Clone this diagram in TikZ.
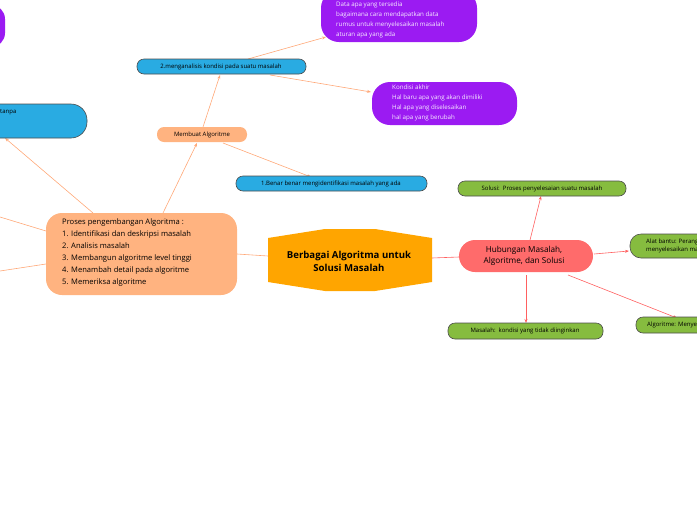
\documentclass[tikz,border=0pt]{standalone}
\usepackage{fontspec}
\setmainfont{Open Sans}
\usetikzlibrary{arrows.meta}
\definecolor{orl}{HTML}{FFB380}
\definecolor{orc}{HTML}{FFA500}
\definecolor{rd}{HTML}{FF6B6B}
\definecolor{gr}{HTML}{86BC3F}
\definecolor{bl}{HTML}{29ABE2}
\definecolor{pu}{HTML}{9B1BF2}
\definecolor{lno}{HTML}{FFA878}
\definecolor{lnr}{HTML}{FF6060}
\begin{document}
\begin{tikzpicture}[x=1pt,y=-1pt,
 gbox/.style={draw=black!70,fill=gr,rounded corners=7pt,line width=0.6pt},
 bbox/.style={draw=black!70,fill=bl,rounded corners=7pt,line width=0.6pt},
 small/.style={font=\fontsize{6}{7.5}\selectfont,inner sep=0pt},
 ptext/.style={font=\fontsize{6.2}{9.8}\selectfont,inner sep=0pt,anchor=north west,align=left,text=white!92!pu},
 oarr/.style={draw=lno,line width=0.6pt,-{Stealth[length=4pt,width=3pt]}},
 oln/.style={draw=lno,line width=0.6pt},
 rarr/.style={draw=lnr,line width=0.6pt,-{Stealth[length=4pt,width=3pt]}}]
\useasboundingbox (0,0) rectangle (697,520);
\clip (0,0) rectangle (697,520);
% connectors first
\coordinate (pl1) at (0,217); \coordinate (pl2) at (0,271);
\coordinate (pr1) at (46,231); \coordinate (pr2) at (46,264);
\draw[oln] (pl1) -- (pr1);
\draw[oln] (pl2) -- (pr2);
\coordinate (p3) at (93,213); \coordinate (lb) at (5,138);
\draw[oarr] (p3) -- (lb);
\coordinate (p4) at (163,213); \coordinate (m1) at (197,143);
\draw[oarr] (p4) -- (m1);
\coordinate (m2) at (203,127); \coordinate (a1) at (220,75);
\draw[oarr] (m2) -- (a1);
\coordinate (m3) at (223,143); \coordinate (b1) at (311,177);
\draw[oarr] (m3) -- (b1);
\coordinate (a2) at (248,59); \coordinate (t1) at (326,37);
\draw[oarr] (a2) -- (t1);
\coordinate (a3) at (270,75); \coordinate (k1) at (371,92);
\draw[oarr] (a3) -- (k1);
\draw[oln] (237,254) -- (268,256);
\draw[draw=lnr,line width=0.6pt] (432,258) -- (459,257);
\coordinate (h1) at (530,240); \coordinate (s1) at (541,196);
\draw[rarr] (h1) -- (s1);
\coordinate (h2) at (594,254); \coordinate (al1) at (629,251);
\draw[rarr] (h2) -- (al1);
\coordinate (h3) at (568,275); \coordinate (ag1) at (677,318);
\draw[rarr] (h3) -- (ag1);
\coordinate (h4) at (526,275); \coordinate (ms1) at (526,323);
\draw[rarr] (h4) -- (ms1);
% boxes
\fill[pu,rounded corners=14pt] (-40,5) rectangle (5,47);
\draw[bbox,rounded corners=16pt] (-60,104) rectangle (87,138);
\node[small,anchor=west] (tanpa) at (0,112) {tanpa};
\fill[orl,rounded corners=16pt] (46,213) rectangle (237,295);
\node[anchor=north west,align=left,font=\fontsize{7.6}{12}\selectfont,inner sep=0pt] (proses) at (62,219)
 {Proses pengembangan Algoritma :\\1. Identifikasi dan deskripsi masalah\\2. Analisis masalah\\3. Membangun algoritme level tinggi\\4. Menambah detail pada algoritme\\5. Memeriksa algoritme};
\fill[orc] (268,238) -- (325,229) -- (375,229) -- (432,238) -- (432,282) -- (375,291) -- (325,291) -- (268,282) -- cycle;
\node[align=center,font=\fontsize{9.6}{13}\selectfont\bfseries,inner sep=0pt] (central) at (349,261) {Berbagai Algoritma untuk\\Solusi Masalah};
\fill[rd,rounded corners=16pt] (459,240) rectangle (593,272);
\node[align=center,font=\fontsize{8.2}{11}\selectfont,inner sep=0pt] (hub) at (524,256) {Hubungan Masalah,\\Algoritme, dan Solusi};
\draw[gbox] (458,181) rectangle (626,196);
\node[small] (sol) at (542,188.5) {Solusi:\ \ Proses penyelesaian suatu masalah};
\draw[gbox,rounded corners=11pt] (630,234) rectangle (760,258);
\node[small,anchor=west,align=left] (alat) at (646,246) {Alat bantu: Perangkat untuk\\menyelesaikan masalah};
\draw[gbox] (636,317) rectangle (760,333);
\node[small,anchor=west] (algo) at (647,325) {Algoritme: Menyelesaikan masalah};
\draw[gbox] (448,323) rectangle (603,339);
\node[small] (mas) at (525,331) {Masalah:\ \ kondisi yang tidak diinginkan};
\fill[orl,rounded corners=7pt] (157,127) rectangle (247,142);
\node[small] (buat) at (202,134.5) {Membuat Algoritme};
\draw[bbox] (137,59) rectangle (306,74);
\node[small] (anl) at (221,66.5) {2.menganalisis kondisi pada suatu masalah};
\draw[bbox] (236,176) rectangle (427,191);
\node[small] (benar) at (331,183.5) {1.Benar benar mengidentifikasi masalah yang ada};
\fill[pu,rounded corners=18pt] (321,-10) rectangle (477,42);
\node[ptext] (data) at (336,2) {Data apa yang tersedia\\bagaimana cara mendapatkan data\\rumus untuk menyelesaikan masalah\\aturan apa yang ada};
\fill[pu,rounded corners=18pt] (372,82) rectangle (517,125);
\node[ptext] (kond) at (392,85) {Kondisi akhir\\Hal baru apa yang akan dimiliki\\Hal apa yang diselesaikan\\hal apa yang berubah};
\end{tikzpicture}
\end{document}
